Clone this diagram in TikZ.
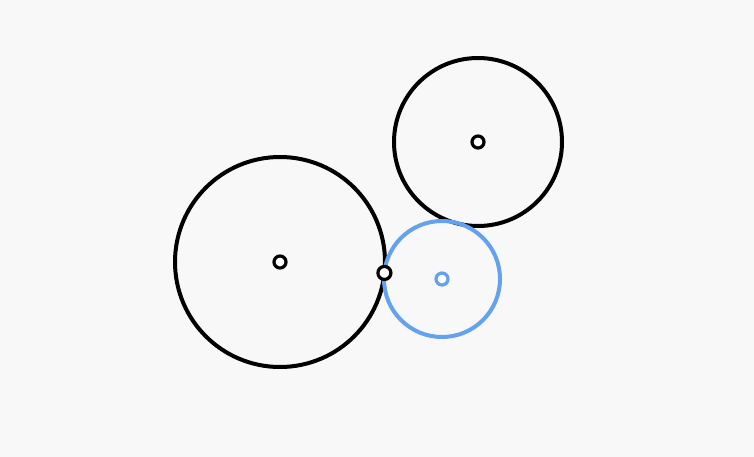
\documentclass[tikz,border=0pt]{standalone}
\usepackage{tikz}
\usetikzlibrary{calc}
\definecolor{bgcol}{HTML}{F8F8F8}
\definecolor{arcblue}{HTML}{64A2F0}

\begin{document}
\begin{tikzpicture}[x=1pt,y=-1pt,
        ring/.style={circle, draw, line width=4pt, inner sep=0pt},
        dot/.style={circle, draw, fill=white, line width=3.2pt, inner sep=0pt, minimum size=12pt}]

            \fill[bgcol] (0,0) rectangle (754,457);
            \useasboundingbox (0,0) rectangle (754,457);

            \node (big) [ring, minimum size=210pt] at (280,262) {};
            \node (top) [ring, minimum size=168pt] at (478,142) {};
            \node (small) [ring, draw=arcblue, minimum size=116pt] at (442,279) {};

            \node (bigc) [dot] at (big.center) {};
            \node (topc) [dot] at (top.center) {};
            \node (smallc) [dot, draw=arcblue] at (small.center) {};

            \node (touch) [dot, minimum size=13pt] at ($(big.center)!105pt!(small.center)$) {};

        \end{tikzpicture}
\end{document}
